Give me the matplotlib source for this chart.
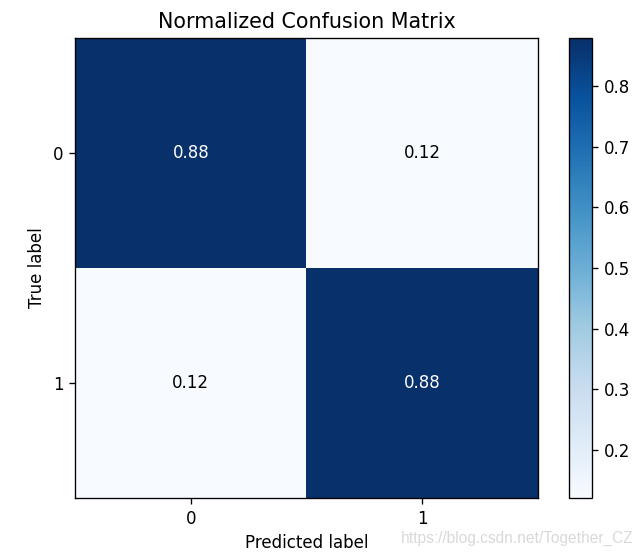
import numpy as np
import matplotlib
matplotlib.use("Agg")
import matplotlib.pyplot as plt

# confusion matrix values (normalized)
classes = ["0", "1"]
cm_values = [[0.88, 0.12],
             [0.12, 0.88]]
title = "Normalized Confusion Matrix"
watermark = "https://blog.csdn.net/Together_CZ"

cm = np.array(cm_values)

fig = plt.figure(figsize=(644 / 120, 554 / 120), dpi=120)
ax = fig.add_axes([75 / 644, 1 - 498 / 554, 463 / 644, 460 / 554])
cax = fig.add_axes([569 / 644, 1 - 498 / 554, 23 / 644, 460 / 554])

image = ax.imshow(cm, interpolation="nearest", cmap=plt.cm.Blues, aspect="auto")
cb = fig.colorbar(image, cax=cax)

ax.set_title(title, fontsize=12.4)
ticks = np.arange(len(classes))
ax.set_xticks(ticks)
ax.set_xticklabels(classes)
ax.set_yticks(ticks)
ax.set_yticklabels(classes)

thresh = cm.max() / 2.0
for i in range(cm.shape[0]):
    for j in range(cm.shape[1]):
        ax.text(j, i, f"{cm[i, j]:.2f}", ha="center", va="center",
                color="white" if cm[i, j] > thresh else "black")

ax.set_ylabel("True label")
ax.set_xlabel("Predicted label")
ax.grid(False)

# csdn watermark in the bottom right corner
fig.text(634 / 644, 1 - 538 / 554, watermark, ha="right", va="center",
         color="#d9d9d9", fontsize=9.3, family="Liberation Sans")

fig.savefig("out.png", dpi=120)
